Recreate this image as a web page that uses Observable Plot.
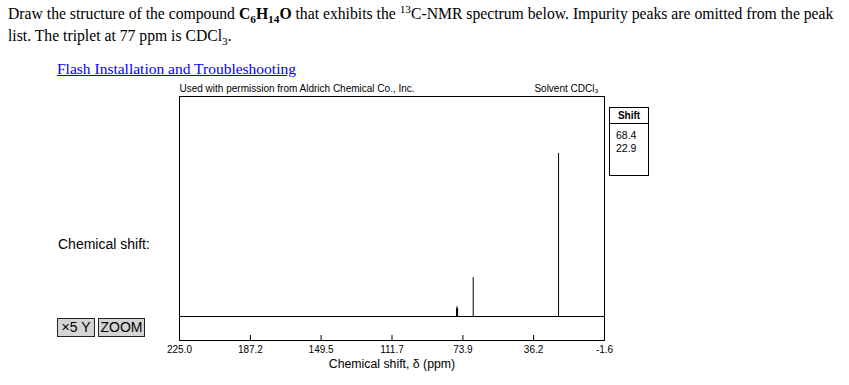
<!DOCTYPE html>
<html>
<head>
<meta charset="utf-8">
<script src="https://cdn.jsdelivr.net/npm/d3@7"></script>
<script src="https://cdn.jsdelivr.net/npm/@observablehq/plot@0.6"></script>
<style>
  html, body { margin: 0; padding: 0; background: #fff; width: 849px; height: 385px; overflow: hidden; }
  #chart { position: absolute; left: 0; top: 0; }
  .abs { position: absolute; z-index: 2; }
  #q { left: 8px; top: 3px; font: 15.7px "Liberation Serif", serif; line-height: 22px; white-space: nowrap; color: #000; }
  #q sub, #q sup { font-size: 0.72em; line-height: 0; }
  #link { left: 57px; top: 60px; font: 15.5px "Liberation Serif", serif; color: #00f; text-decoration: underline; white-space: nowrap; }
  #cs { left: 58px; top: 236px; font: 14px "Liberation Sans", Arial, sans-serif; }
  .btn { top: 318px; height: 17px; border: 1px solid #222; background: #d4d4d4; font: 14px "Liberation Sans", Arial, sans-serif; line-height: 17px; text-align: center; }
  #shiftbox { left: 609px; top: 107px; width: 38px; height: 67px; border: 1px solid #000; font-family: "Liberation Sans", Arial, sans-serif; }
  #shiftbox .hd { font-weight: bold; font-size: 10px; text-align: center; height: 15px; line-height: 15px; border-bottom: 1px solid #000; }
  #shiftbox .v { font-size: 10.5px; line-height: 13px; padding-left: 6px; }
</style>
</head>
<body>
<div id="chart"></div>
<div id="q" class="abs">Draw the structure of the compound <b>C<sub>6</sub>H<sub>14</sub>O</b> that exhibits the <sup>13</sup>C-NMR spectrum below. Impurity peaks are omitted from the peak<br>list. The triplet at 77 ppm is CDCl<sub>3</sub>.</div>
<div id="link" class="abs">Flash Installation and Troubleshooting</div>
<div id="cs" class="abs">Chemical shift:</div>
<div class="abs btn" style="left:57px;width:36px;">×5 Y</div>
<div class="abs btn" style="left:98px;width:45px;">ZOOM</div>
<div id="shiftbox" class="abs"><div class="hd">Shift</div><div id="vals" style="padding-top:5px"></div></div>
<script>
// Data
const tickLabels = [225.0, 187.2, 149.5, 111.7, 73.9, 36.2, -1.6];
const peakShifts = [68.4, 22.9];
const peakHeights = [17.7, 74.1];
const solventShifts = [77.3, 77.0, 76.7];
const solventHeights = [3.6, 4.5, 3.6];
const listedShifts = ["68.4", "22.9"];
const axisTitle = "Chemical shift, δ (ppm)";
const creditText = "Used with permission from Aldrich Chemical Co., Inc.";
const solventText = "Solvent CDCl₃";

const peaks = peakShifts.map((s, i) => ({shift: s, height: peakHeights[i]}));
const solvent = solventShifts.map((s, i) => ({shift: s, height: solventHeights[i]}));

const plot = Plot.plot({
  width: 849,
  height: 385,
  marginLeft: 179,
  marginRight: 245,
  marginTop: 96,
  marginBottom: 45,
  style: {fontFamily: "Liberation Sans, Arial, sans-serif", background: "transparent", color: "#000"},
  x: {domain: [225, -1.6]},
  y: {domain: [-10.9, 100], axis: null},
  marks: [
    Plot.frame({stroke: "#000"}),
    Plot.ruleY([0], {stroke: "#000"}),
    Plot.ruleX(peaks, {x: "shift", y1: 0, y2: "height", stroke: "#000"}),
    Plot.ruleX(solvent, {x: "shift", y1: 0, y2: "height", stroke: "#000"}),
    Plot.tickX(tickLabels, {x: d => d, insetTop: 239, stroke: "#000"}),
    Plot.axisX({ticks: tickLabels, tickFormat: d => d.toFixed(1), tickSize: 0, tickPadding: 5, fontSize: 10, label: null}),
    Plot.text([axisTitle], {frameAnchor: "bottom", dy: 27, text: d => d, fontSize: 12.3}),
    Plot.text([creditText], {frameAnchor: "top-left", lineAnchor: "bottom", dy: -5, text: d => d, textAnchor: "start", fontSize: 10}),
    Plot.text([solventText], {frameAnchor: "top-right", lineAnchor: "bottom", dx: -6, dy: -5, text: d => d, textAnchor: "end", fontSize: 10})
  ]
});
document.getElementById("chart").appendChild(plot);
document.getElementById("vals").innerHTML = listedShifts.map(v => `<div class="v">${v}</div>`).join("");
</script>
</body>
</html>
